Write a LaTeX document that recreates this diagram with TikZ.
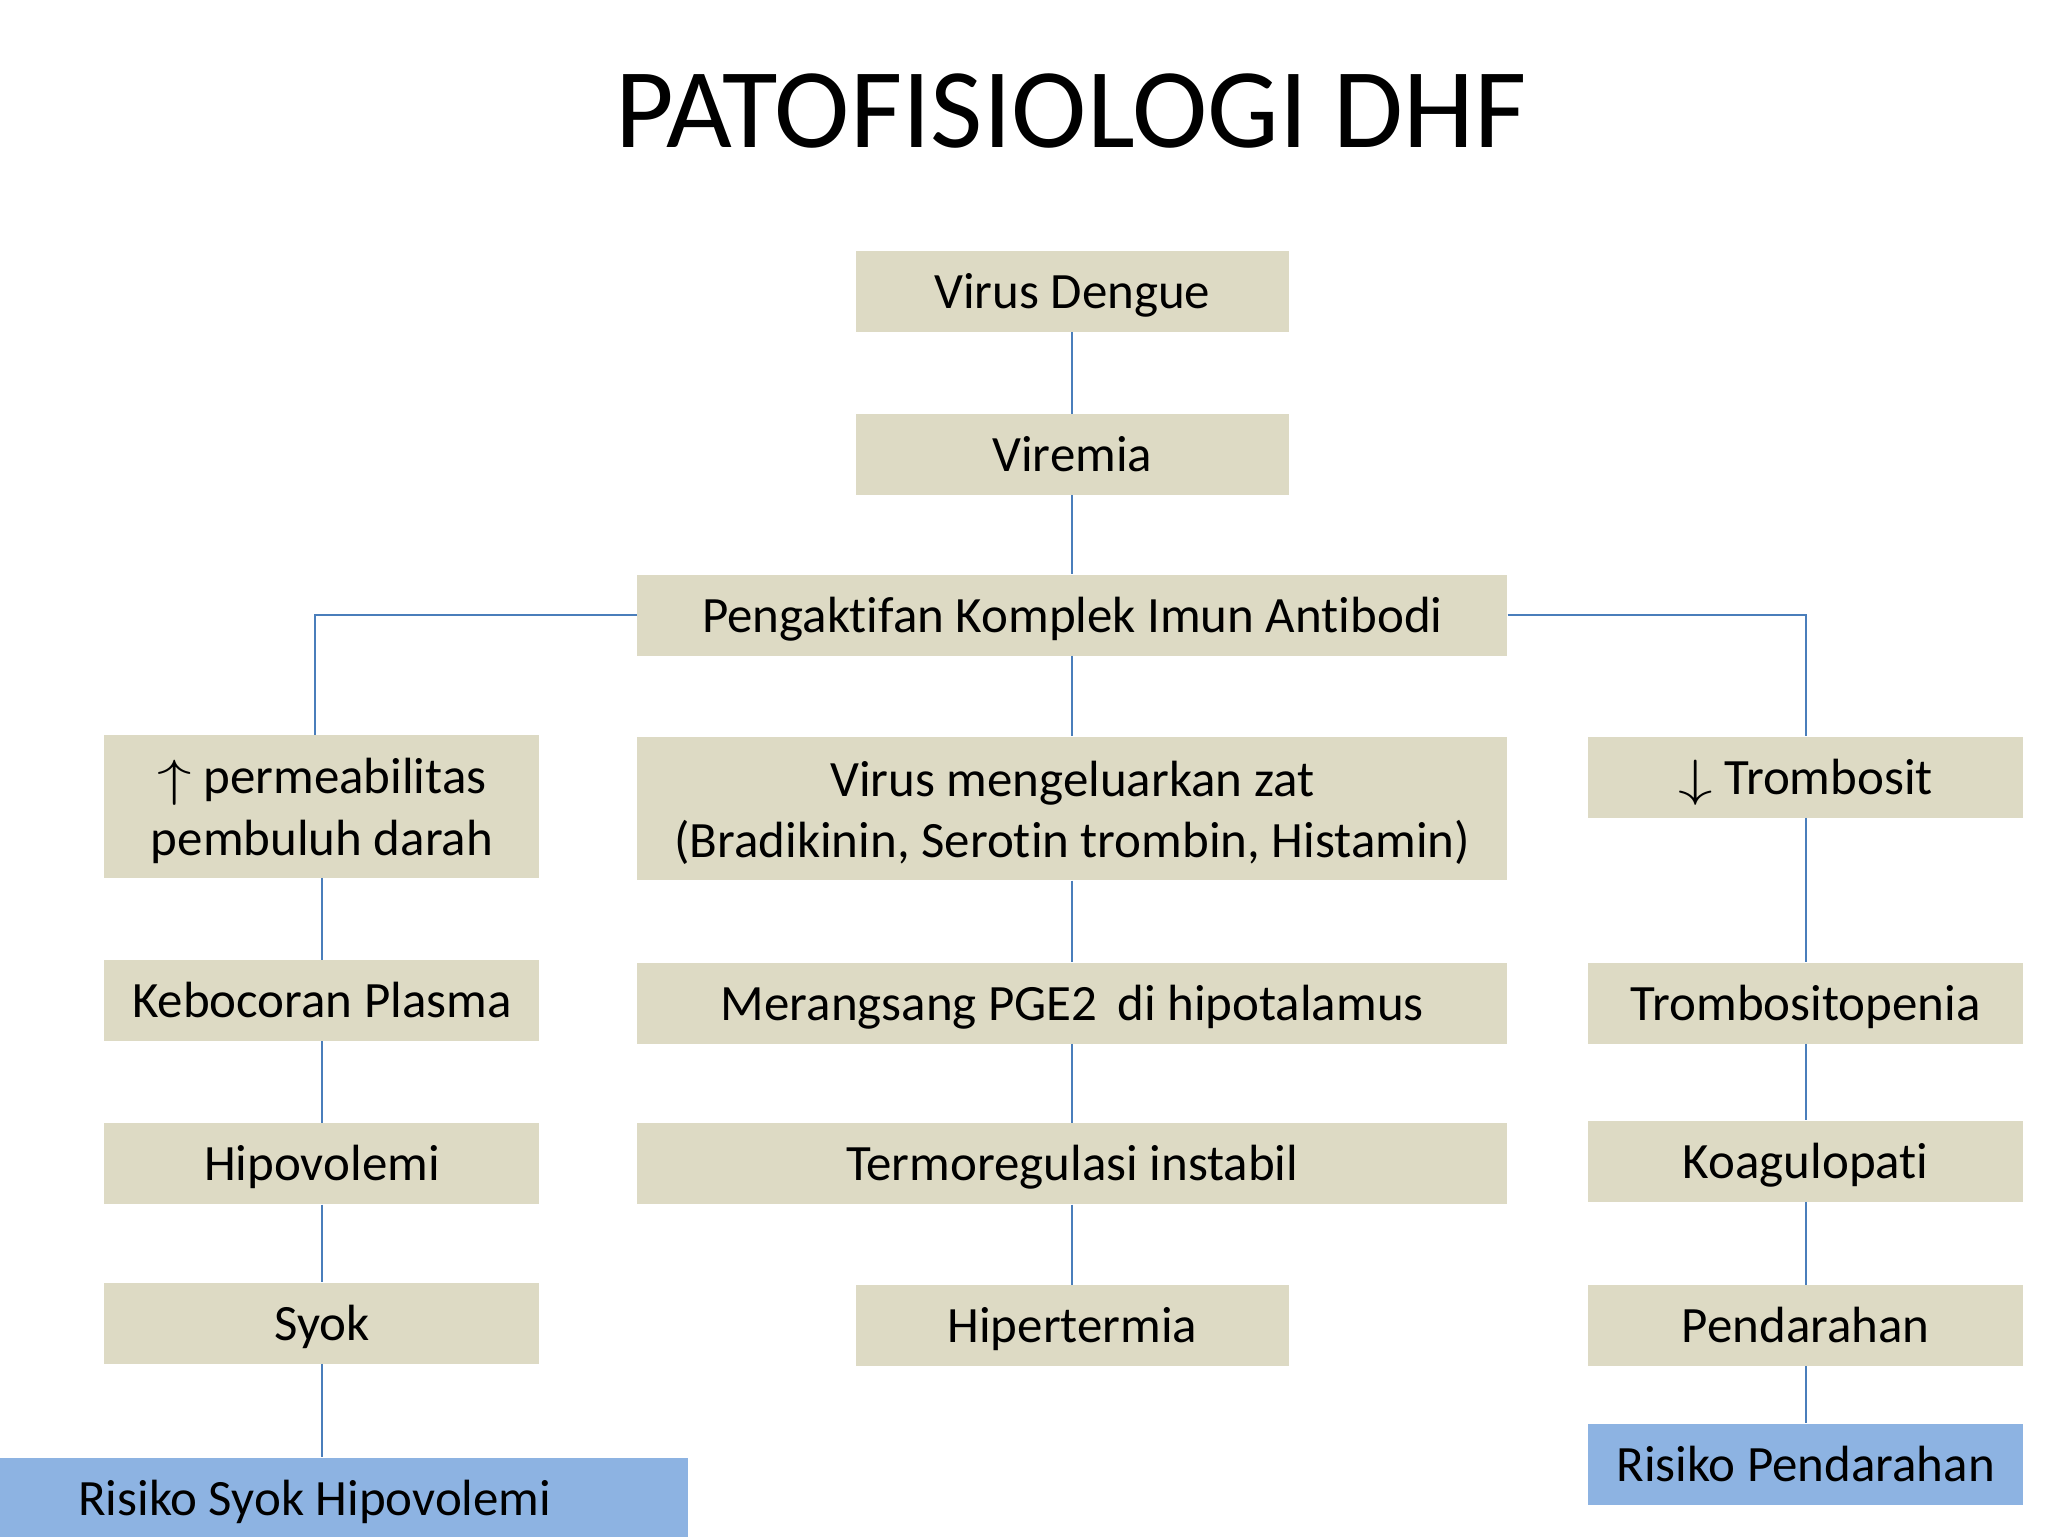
\documentclass[tikz,border=0pt]{standalone}
\usepackage{fix-cm}
\usepackage{graphicx}
\usepackage{fontspec}
\setmainfont[Ligatures=NoCommon]{Carlito}
\definecolor{boxtan}{HTML}{DDDAC4}
\definecolor{boxblue}{HTML}{8DB3E2}
\definecolor{lineblue}{HTML}{4A7EBB}
\newcommand{\arrup}{\raisebox{-1pt}{\scalebox{1.35}[1]{$\uparrow$}}}
\newcommand{\arrdown}{\raisebox{-1pt}{\scalebox{1.35}[1]{$\downarrow$}}}
\begin{document}
\begin{tikzpicture}[x=1pt,y=-1pt,
  box/.style={fill=boxtan, draw=none, inner sep=0pt, align=center,
    font=\fontsize{39}{47}\selectfont, text height=30pt, text depth=4pt},
  twoline/.style={box, text height=, text depth=},
  riskbox/.style={box, fill=boxblue},
  conn/.style={draw=lineblue, line width=1.5pt}]
\useasboundingbox (0,0) rectangle (1568,1176);
\clip (0,0) rectangle (1568,1176);
\fill[white] (0,0) rectangle (1568,1176);
\node[anchor=base, font=\fontsize{87}{100}\selectfont] (title) at (820,113) {PATOFISIOLOGI DHF};
% center column
\node[box, minimum width=332, minimum height=62] (vd) at (821,223) {Virus Dengue};
\node[box, minimum width=332, minimum height=62] (vr) at (821,348) {Viremia};
\node[box, minimum width=666, minimum height=62] (pk) at (821,471) {Pengaktifan Komplek Imun Antibodi};
\node[twoline, minimum width=666, minimum height=110] (vm) at (821,619) {\rule{0pt}{34pt}Virus mengeluarkan zat\\(Bradikinin, Serotin trombin, Histamin)};
\node[box, minimum width=666, minimum height=62] (mp) at (821,768) {Merangsang PGE2\, di hipotalamus};
\node[box, minimum width=666, minimum height=62] (tr) at (821,891) {Termoregulasi instabil};
\node[box, minimum width=332, minimum height=62] (ht) at (821,1015) {Hipertermia};
% left column
\node[twoline, minimum width=333, minimum height=109] (pm) at (246.5,617.5) {\rule{0pt}{34pt}\arrup\ permeabilitas\\pembuluh darah};
\node[box, minimum width=333, minimum height=62] (kp) at (246.5,766) {Kebocoran Plasma};
\node[box, minimum width=333, minimum height=62] (hv) at (246.5,891) {Hipovolemi};
\node[box, minimum width=333, minimum height=62] (sy) at (246.5,1013) {Syok};
\node[riskbox, minimum width=572, minimum height=62] (rs) at (241,1147) {Risiko Syok Hipovolemi};
% right column
\node[box, minimum width=333, minimum height=62] (tb) at (1382.5,595) {\arrdown\ Trombosit};
\node[box, minimum width=333, minimum height=62] (tp) at (1382.5,768) {Trombositopenia};
\node[box, minimum width=333, minimum height=62] (kg) at (1382.5,889) {Koagulopati};
\node[box, minimum width=333, minimum height=62] (pd) at (1382.5,1015) {Pendarahan};
\node[riskbox, minimum width=333, minimum height=62] (rp) at (1382.5,1121) {Risiko Pendarahan};
% connectors
\coordinate (lc) at (241,471);
\draw[conn] (vd) -- (vr);
\draw[conn] (vr) -- (pk);
\draw[conn] (pk) -- (vm);
\draw[conn] (vm) -- (mp);
\draw[conn] (mp) -- (tr);
\draw[conn] (tr) -- (ht);
\draw[conn] (pk.west) -- (lc) -- (lc |- pm.north);
\draw[conn] (pm) -- (kp);
\draw[conn] (kp) -- (hv);
\draw[conn] (hv) -- (sy);
\draw[conn] (sy.south) -- (sy.south |- rs.north);
\draw[conn] (pk.east) -| (tb.north);
\draw[conn] (tb) -- (tp);
\draw[conn] (tp) -- (kg);
\draw[conn] (kg) -- (pd);
\draw[conn] (pd) -- (rp);
\end{tikzpicture}
\end{document}
